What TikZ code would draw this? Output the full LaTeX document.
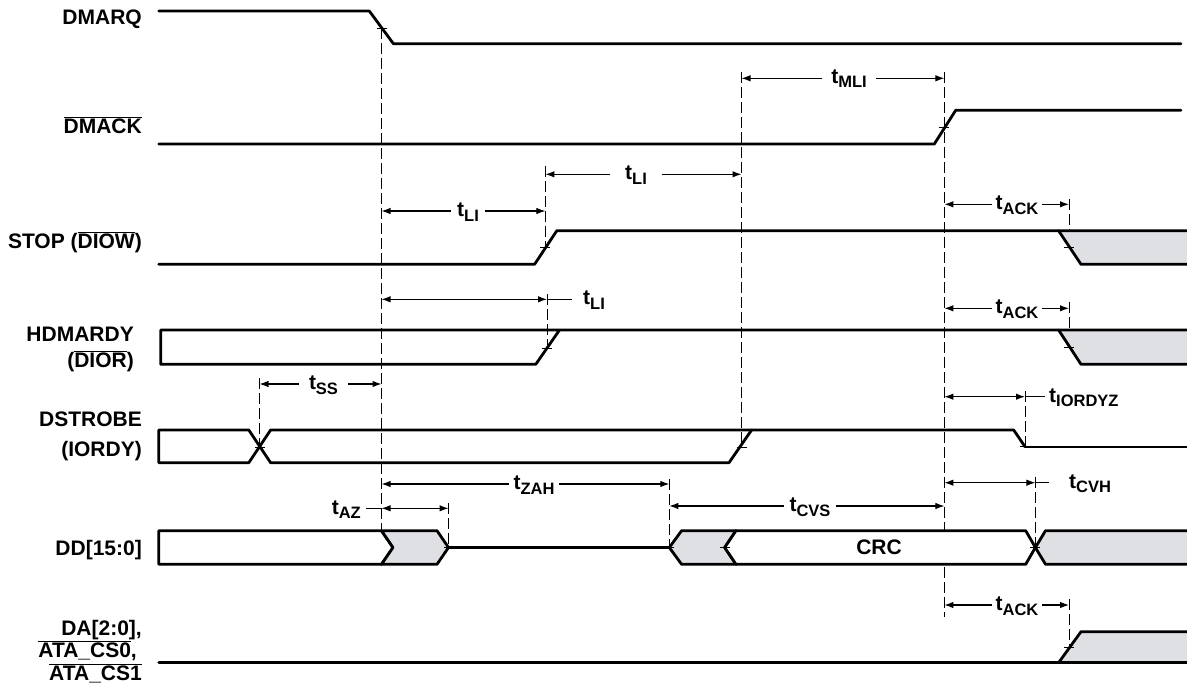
\documentclass[tikz,border=0pt]{standalone}
\usepackage{fontspec}
\setmainfont{Liberation Sans}
\usetikzlibrary{arrows.meta}
\definecolor{greyfill}{RGB}{223,224,227}
\newcommand\ovl[1]{$\overline{\hbox{#1}}$}
\newcommand\tm[1]{t\raisebox{-4.8pt}{\fontsize{16.5}{16.5}\selectfont #1}}
\begin{document}
\begin{tikzpicture}[x=1pt,y=-1pt,
  sig/.style={line width=2.8pt, line join=round, line cap=round},
  zsig/.style={line width=2.1pt, line join=round, line cap=round},
  dim/.style={line width=1.1pt, {Latex[length=9pt,width=6.5pt]}-{Latex[length=9pt,width=6.5pt]}},
  ext/.style={line width=1.1pt},
  guide/.style={line width=0.9pt, dash pattern=on 11pt off 4pt},
  tick/.style={line width=0.9pt},
  lbl/.style={font=\fontsize{21}{23}\selectfont\bfseries, anchor=base east, inner sep=0pt},
  tl/.style={font=\fontsize{21}{23}\selectfont\bfseries, fill=white, inner ysep=2pt, inner xsep=5pt, anchor=base}]
\useasboundingbox (0,0) rectangle (1187,683);
\fill[white] (0,0) rectangle (1187,683);

% ---------- signal names
\node[lbl] (dmarq) at (142,24.5) {DMARQ};
\node[lbl] (dmack) at (142,133) {\ovl{DMACK}};
\node[lbl] (stop) at (142,248) {STOP (\ovl{DIOW})};
\node[lbl] (hdm1) at (134,341.5) {HDMARDY};
\node[lbl] (hdm2) at (134,367.5) {(\ovl{DIOR})};
\node[lbl] (dst1) at (142,426.5) {DSTROBE};
\node[lbl] (dst2) at (142,456) {(IORDY)};
\node[lbl] (dd) at (142,555.5) {DD[15:0]};
\node[lbl] (da1) at (142,635) {DA[2:0],};
\node[lbl] (da2) at (137,657) {\ovl{ATA\_CS0},};
\node[lbl] (da3) at (142,680) {\ovl{ATA\_CS1}};

% ---------- guide lines (dashed)
\draw[guide] (381.5,28) -- (381.5,530);
\draw[guide] (545.4,166) -- (545.4,247);
\draw[guide] (547,294) -- (547,348);
\draw[guide] (741.5,72) -- (741.5,447);
\draw[guide] (944.4,72) -- (944.4,617);
\draw[guide] (1069,199) -- (1069,247);
\draw[guide] (1069,302) -- (1069,347);
\draw[guide] (1069,599) -- (1069,647);
\draw[guide] (1025,391) -- (1025,447);
\draw[guide] (259.5,378) -- (259.5,447);
\draw[guide] (669.3,479) -- (669.3,547.5);
\draw[guide] (448.5,503) -- (448.5,547.5);
\draw[guide] (1035.4,477) -- (1035.4,547.5);

% ---------- DMARQ
\draw[sig] (158.8,11) -- (369.3,11) -- (393.4,43.7) -- (1181,43.7);
% ---------- DMACK
\draw[sig] (158.8,144) -- (934.3,144) -- (955.7,110.3) -- (1181,110.3);
% ---------- STOP
\fill[greyfill] (1058.6,230.7) -- (1081,264.3) -- (1187,264.3) -- (1187,230.7) -- cycle;
\draw[sig] (158.8,264.3) -- (534.6,264.3) -- (556.8,230.7) -- (1187,230.7);
\draw[sig] (1058.6,230.7) -- (1081,264.3) -- (1187,264.3);
% ---------- HDMARDY
\fill[greyfill] (1058.6,330) -- (1081,364.3) -- (1187,364.3) -- (1187,330) -- cycle;
\draw[sig] (1187,330) -- (160.7,330) -- (160.7,364.3) -- (535.8,364.3) -- (559.5,330);
\draw[sig] (1058.6,330) -- (1081,364.3) -- (1187,364.3);
% ---------- DSTROBE
\draw[sig] (270.6,462.7) -- (248.8,430) -- (158.8,430) -- (158.8,462.7) -- (248.8,462.7) -- (270.6,430) -- (1013.7,430) -- (1025,446.7);
\draw[zsig] (1025,446.7) -- (1187,446.7);
\draw[sig] (270.6,462.7) -- (729,462.7) -- (751.6,430);
% ---------- DD
\draw[sig, fill=white] (158.8,530.7) -- (381.5,530.7) -- (393,547.5) -- (381.5,564.3) -- (158.8,564.3) -- cycle;
\draw[sig, fill=greyfill] (381.5,530.7) -- (437,530.7) -- (448.5,547.5) -- (437,564.3) -- (381.5,564.3) -- (393,547.5) -- cycle;
\draw[zsig] (448.5,547.5) -- (669.3,547.5);
\draw[sig, fill=greyfill] (669.3,547.5) -- (681.6,530.7) -- (736,530.7) -- (724.7,547.5) -- (736,564.3) -- (681.6,564.3) -- cycle;
\draw[sig, fill=white] (724.7,547.5) -- (736,530.7) -- (1025.7,530.7) -- (1035.4,547.5) -- (1025.7,564.3) -- (736,564.3) -- cycle;
\fill[greyfill] (1035.4,547.5) -- (1045.5,530.7) -- (1187,530.7) -- (1187,564.3) -- (1045.5,564.3) -- cycle;
\draw[sig] (1187,530.7) -- (1045.5,530.7) -- (1035.4,547.5) -- (1045.5,564.3) -- (1187,564.3);
\node[font=\fontsize{21}{23}\selectfont\bfseries] (crc) at (879,547.5) {CRC};
% ---------- DA / CS
\fill[greyfill] (1058.6,662.7) -- (1081,631.7) -- (1187,631.7) -- (1187,662.7) -- cycle;
\draw[sig] (158.8,662.7) -- (1187,662.7);
\draw[sig] (1058.6,662.7) -- (1081,631.7) -- (1187,631.7);

% ---------- crossing ticks
\foreach \x/\y in {381.5/28.3, 545.4/247, 944.4/127, 1069/247, 547/348, 1069/347,
  741.5/447, 259.5/447, 1069/647, 669.3/547.5, 724.7/547.5, 1035.4/547.5, 1025/446.7, 448.5/547.5}
  \draw[tick] (\x-5,\y) -- (\x+5,\y);

% ---------- timing dimensions
\draw[dim] (741.5,78.3) -- (944.4,78.3);
\node[tl, inner xsep=9pt] (tmli) at (849,83) {\tm{MLI}};
\draw[dim] (545.4,174.3) -- (741.5,174.3);
\node[tl, inner xsep=15pt] (tli1) at (636,179.5) {\tm{LI}};
\draw[dim] (381.5,211) -- (545.4,211);
\node[tl, inner xsep=6pt] (tli2) at (468,216.5) {\tm{LI}};
\draw[dim] (944.4,204.3) -- (1069,204.3);
\node[tl, inner xsep=4pt] (tack1) at (1017,209.5) {\tm{ACK}};
\draw[dim] (381.5,299.3) -- (547,299.3);
\draw[ext] (547,299.3) -- (572,299.3);
\node[tl, anchor=base west, inner sep=0pt] (tli3) at (583,304.5) {\tm{LI}};
\draw[dim] (944.4,308.3) -- (1069,308.3);
\node[tl, inner xsep=4pt] (tack2) at (1017,313.5) {\tm{ACK}};
\draw[dim] (944.4,396.7) -- (1025,396.7);
\draw[ext] (1025,396.7) -- (1045,396.7);
\node[tl, anchor=base west, inner sep=0pt] (tiordyz) at (1049,402) {\tm{IORDYZ}};
\draw[dim] (259.5,384) -- (381.5,384);
\node[tl, inner xsep=10pt] (tss) at (323.5,389.5) {\tm{SS}};
\draw[dim] (381.5,484) -- (669.3,484);
\node[tl] (tzah) at (534,489.5) {\tm{ZAH}};
\draw[ext] (365.5,508.3) -- (381.5,508.3);
\draw[dim] (381.5,508.3) -- (448.5,508.3);
\node[tl, anchor=base east, inner sep=0pt] (taz) at (361,514) {\tm{AZ}};
\draw[dim] (669.3,506) -- (944.4,506);
\node[tl, inner xsep=6pt] (tcvs) at (810,511.5) {\tm{CVS}};
\draw[dim] (944.4,482.7) -- (1035.4,482.7);
\draw[ext] (1035.4,482.7) -- (1049,482.7);
\node[tl, anchor=base west, inner sep=0pt] (tcvh) at (1069,488) {\tm{CVH}};
\draw[dim] (944.4,605) -- (1069,605);
\node[tl, inner xsep=4pt] (tack3) at (1017,610.5) {\tm{ACK}};
\end{tikzpicture}
\end{document}
